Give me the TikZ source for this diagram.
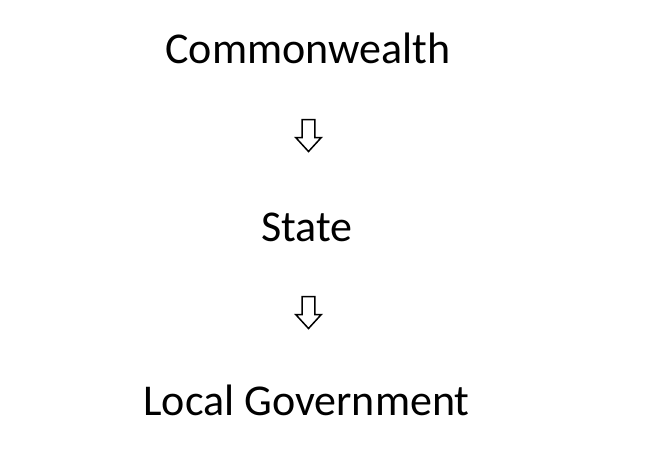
\documentclass[tikz,border=0pt]{standalone}
\usepackage{fontspec}
\setmainfont{Carlito}
\usepackage{tikz}
\usetikzlibrary{calc, positioning}
\tikzstyle{word}=[anchor=base, inner sep=0pt, font=\fontsize{44}{52}\selectfont]
\tikzstyle{blk}=[line width=1.5pt, line join=miter]
\newcommand{\hollowdown}[1]{%
\draw[blk, shift={(#1)}] (-6.3,0) -- (6.3,0) -- (6.3,18) -- (12.8,18) -- (0,32) -- (-12.8,18) -- (-6.3,18) -- cycle;}

\begin{document}
\begin{tikzpicture}[x=1pt, y=-1pt]
\useasboundingbox (0,0) rectangle (672,458);
\node[word] (cw) at (308,63) {Commonwealth};
\node[word] (st) at (307,241) {State};
\node[word] (lg) at (306.5,415) {Local Government};
%
\coordinate (a1) at (308.5,119.5);
\coordinate (a2) at (308.5,296.5);
\hollowdown{a1}
\hollowdown{a2}
\end{tikzpicture}
\end{document}
